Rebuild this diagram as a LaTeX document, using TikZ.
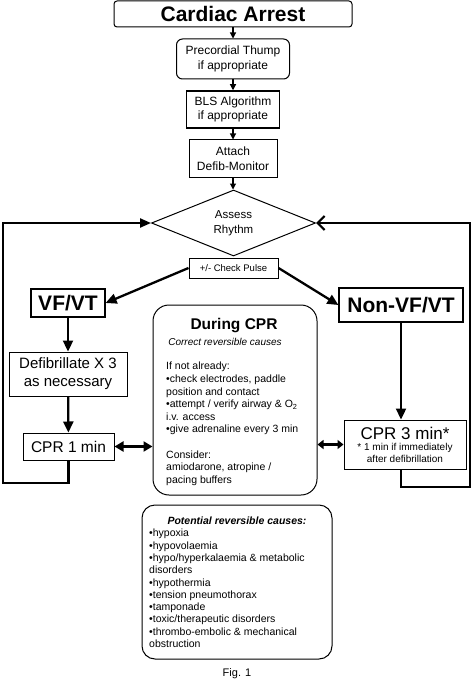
\documentclass[tikz,border=0pt]{standalone}
\usepackage{fontspec}
\setmainfont{Liberation Sans}
\usetikzlibrary{shapes.geometric,arrows.meta}
\newlength{\du}
\setlength{\du}{1pt}
\definecolor{dialinecolor}{rgb}{0.000000, 0.000000, 0.000000}
\tikzset{
  box/.style={draw=dialinecolor, line width=1\du, fill=white, inner sep=0pt, align=center, font=\fontsize{12}{14.5}\selectfont},
  bigword/.style={font=\fontsize{21}{24}\selectfont\bfseries},
  thinarrow/.style={draw=dialinecolor, line width=1.1\du, -{Triangle[length=6pt,width=6pt]}},
  thickarrow/.style={draw=dialinecolor, line width=2.3\du, -{Triangle[length=11pt,width=10pt]}},
  loopline/.style={draw=dialinecolor, line width=2.2\du, line join=miter},
  bothways/.style={draw=dialinecolor, line width=2.2\du, {Triangle[length=9pt,width=10pt]}-{Triangle[length=9pt,width=10pt]}},
  bothwaysshort/.style={draw=dialinecolor, line width=2.2\du, {Triangle[length=6pt,width=9pt]}-{Triangle[length=6pt,width=9pt]}}
}

\begin{document}
\begin{tikzpicture}
\pgftransformxscale{1.000000}
\pgftransformyscale{-1.000000}
\useasboundingbox (0\du,0\du) rectangle (474\du,679\du);
% top column
\node[box, bigword, rounded corners=3\du, minimum width=238\du, minimum height=26\du] (arrest) at (233\du,14\du){Cardiac Arrest};
\node[box, rounded corners=6\du, minimum width=113\du, minimum height=40\du] (thump) at (233\du,59\du){Precordial Thump\\if appropriate};
\node[box, line width=1.5\du, minimum width=93\du, minimum height=37\du] (bls) at (233\du,109.5\du){BLS Algorithm\\if appropriate};
\node[box, minimum width=88\du, minimum height=37\du] (monitor) at (233\du,158.5\du){Attach\\Defib-Monitor};
\node[box, shape=diamond, minimum width=164\du, minimum height=66\du, font=\fontsize{11.5}{15}\selectfont] (assess) at (233.5\du,223\du){Assess\\Rhythm};
\node[box, minimum width=89\du, minimum height=20\du, font=\fontsize{9.5}{11}\selectfont] (pulse) at (233.5\du,268\du){+/- Check Pulse};
% rhythms
\node[box, bigword, line width=1.2\du, minimum width=74\du, minimum height=28\du] (vfvt) at (68\du,303\du){VF/VT};
\node[box, bigword, line width=1.2\du, minimum width=124\du, minimum height=34\du] (nonvf) at (401\du,305\du){Non-VF/VT};
\node[box, minimum width=118\du, minimum height=44\du, font=\fontsize{15}{18}\selectfont] (defib) at (68\du,374\du){Defibrillate X 3\\as necessary};
\node[box, minimum width=91\du, minimum height=27\du, font=\fontsize{15.5}{18}\selectfont] (cprone) at (68.5\du,446.5\du){CPR 1 min};
\node[box, minimum width=122\du, minimum height=49\du, font=\fontsize{10}{11.5}\selectfont] (cprthree) at (405\du,444.5\du){{\fontsize{17}{20}\selectfont CPR 3 min*}\\{}* 1 min if immediately\\after defibrillation};
% during CPR
\node[box, rounded corners=16\du, minimum width=164\du, minimum height=190\du] (during) at (235\du,400\du){};
\node[font=\fontsize{15.5}{18}\selectfont\bfseries] (duringtitle) at (234\du,326\du){During CPR};
\node[font=\fontsize{10}{12}\selectfont\itshape] (duringsub) at (225\du,342\du){Correct reversible causes};
\node[anchor=north west, inner sep=0pt, align=left, font=\fontsize{10.5}{12.6}\selectfont] (duringlist) at (166\du,362\du){If not already:\\•check electrodes, paddle\\position and contact\\•attempt / verify airway \& O\textsubscript{2}\\i.v. access\\•give adrenaline every 3 min\\[12.6\du]Consider:\\amiodarone, atropine /\\pacing buffers};
% reversible causes
\node[box, rounded corners=13\du, minimum width=190\du, minimum height=154\du] (causes) at (237\du,582\du){};
\node[font=\fontsize{10.5}{12}\selectfont\bfseries\itshape] (causestitle) at (237\du,521\du){Potential reversible causes:};
\node[anchor=north west, inner sep=0pt, align=left, font=\fontsize{10.5}{12.3}\selectfont] (causeslist) at (149\du,529\du){•hypoxia\\•hypovolaemia\\•hypo/hyperkalaemia \& metabolic\\disorders\\•hypothermia\\•tension pneumothorax\\•tamponade\\•toxic/therapeutic disorders\\•thrombo-embolic \& mechanical\\obstruction};
\node[font=\fontsize{11}{13}\selectfont, anchor=base] (figcap) at (237\du,676\du){Fig. 1};
% connectors
\draw[thinarrow] (arrest) -- (thump);
\draw[thinarrow] (thump) -- (bls);
\draw[thinarrow] (bls) -- (monitor);
\draw[thinarrow] (monitor.south) -- (monitor.south |- assess.north);
\draw[thickarrow] (pulse.west) -- (vfvt.east);
\draw[thickarrow] (pulse.east) -- (nonvf.west);
\draw[thickarrow] (vfvt) -- (defib);
\draw[thickarrow] (defib) -- (cprone);
\draw[thickarrow] (nonvf.south) -- (nonvf.south |- cprthree.north);
\draw[bothways] (cprone.east) -- (cprone.east -| during.west);
\draw[bothwaysshort] (cprthree.west -| during.east) -- (cprthree.west);
% loops back to rhythm
\coordinate (leftturn) at (3\du,483\du);
\coordinate (rightturn) at (470\du,487\du);
\draw[loopline, -{Triangle[length=11pt,width=9pt]}] (cprone.south) -- (cprone.south |- leftturn) -- (leftturn) -- (leftturn |- assess.west) -- (assess.west);
\draw[loopline, -{Straight Barb[length=7pt,width=14pt]}] (nonvf.south |- cprthree.south) -- (nonvf.south |- rightturn) -- (rightturn) -- (rightturn |- assess.east) -- (assess.east);
\end{tikzpicture}
\end{document}
